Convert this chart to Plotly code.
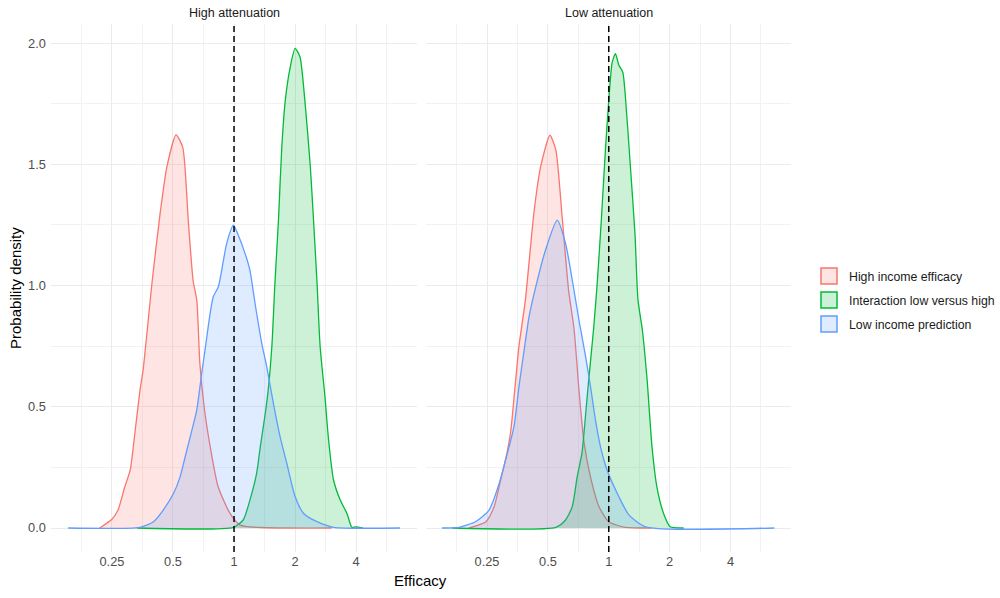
import plotly.graph_objects as go

# ---------------- data ----------------
series_names = ["High income efficacy", "Interaction low versus high", "Low income prediction"]
line_colors = ["#F8766D", "#00BA38", "#619CFF"]
fill_colors = ["rgba(248,118,109,0.2)", "rgba(0,186,56,0.2)", "rgba(97,156,255,0.2)"]
panels = ["High attenuation", "Low attenuation"]

# High attenuation panel
high_red_x = [0.2176, 0.25, 0.2679, 0.2892, 0.3078, 0.3253, 0.3439, 0.3560, 0.3950, 0.4323, 0.4665,
              0.5176, 0.5586, 0.5946, 0.6285, 0.6552, 0.6783, 0.7120, 0.7631, 0.8351, 0.9553, 1.0718,
              1.3472, 3.031]
high_red_y = [0.0, 0.036, 0.074, 0.17, 0.24, 0.40, 0.57, 0.65, 1.02, 1.30, 1.49,
              1.622, 1.57, 1.27, 1.02, 0.94, 0.68, 0.50, 0.335, 0.17, 0.06, 0.012,
              0.002, 0.0]

high_green_x = [0.3322, 0.9931, 1.1096, 1.1975, 1.2924, 1.3472, 1.4241, 1.4743, 1.5369, 1.5911,
                1.6586, 1.7171, 1.7901, 1.8921, 2.0, 2.1140, 2.2346, 2.3784, 2.4623, 2.5669,
                2.6574, 2.8089, 2.9282, 3.0950, 3.3404, 3.6050, 3.8106, 4.0, 4.3169]
high_green_y = [0.0, 0.003, 0.033, 0.115, 0.225, 0.335, 0.47, 0.57, 0.75, 1.01,
                1.28, 1.56, 1.765, 1.90, 1.978, 1.944, 1.765, 1.49, 1.28, 1.01,
                0.75, 0.54, 0.36, 0.198, 0.115, 0.06, 0.003, 0.005, 0.0]

high_blue_x = [0.152, 0.3439, 0.4005, 0.4475, 0.5035, 0.5414, 0.5743, 0.6198, 0.6552, 0.6926,
               0.7194, 0.7579, 0.7900, 0.8368, 0.9202, 0.9931, 1.0497, 1.1329, 1.1975, 1.2693,
               1.3697, 1.4500, 1.5636, 1.6864, 1.8201, 2.0, 2.2038, 2.5669, 3.0950, 6.589]
high_blue_y = [0.0, 0.003, 0.026, 0.074, 0.143, 0.21, 0.294, 0.404, 0.487, 0.638,
               0.734, 0.871, 0.954, 0.995, 1.174, 1.249, 1.208, 1.133, 1.064, 0.927,
               0.762, 0.665, 0.514, 0.377, 0.267, 0.13, 0.06, 0.026, 0.003, 0.0]

# Low attenuation panel
low_red_x = [0.2031, 0.2466, 0.2710, 0.2918, 0.3139, 0.3276, 0.3464, 0.3596, 0.3868, 0.4263,
             0.4601, 0.5115, 0.5471, 0.5885, 0.6329, 0.6736, 0.7120, 0.7526, 0.8123, 0.8950,
             1.0, 1.2058, 1.6245]
low_red_y = [0.0, 0.026, 0.088, 0.198, 0.31, 0.40, 0.61, 0.75, 0.94, 1.30,
             1.49, 1.62, 1.56, 1.28, 0.98, 0.82, 0.57, 0.36, 0.21, 0.088,
             0.026, 0.003, 0.0]

low_green_x = [0.1684, 0.5471, 0.6113, 0.6598, 0.6974, 0.7371, 0.7684, 0.7955, 0.8409, 0.8766,
               0.9202, 0.9626, 1.0, 1.0389, 1.0792, 1.1204, 1.1728, 1.2058, 1.2791, 1.3472,
               1.3947, 1.4641, 1.5476, 1.6358, 1.7291, 1.8661, 2.0139, 2.3457]
low_green_y = [0.0, 0.003, 0.033, 0.088, 0.21, 0.31, 0.47, 0.61, 0.82, 1.01,
               1.28, 1.56, 1.765, 1.92, 1.957, 1.91, 1.88, 1.79, 1.49, 1.215,
               0.94, 0.82, 0.61, 0.335, 0.17, 0.06, 0.005, 0.0]

low_blue_x = [0.1497, 0.1817, 0.2192, 0.2558, 0.2872, 0.3151, 0.3398, 0.3596, 0.3815, 0.4033,
              0.4353, 0.4863, 0.5557, 0.6113, 0.6598, 0.7120, 0.7684, 0.8123, 0.8596, 0.9101,
              0.9808, 1.1204, 1.2570, 1.5157, 6.589]
low_blue_y = [0.0, 0.003, 0.026, 0.074, 0.184, 0.308, 0.418, 0.583, 0.734, 0.871,
              0.995, 1.146, 1.27, 1.174, 1.023, 0.858, 0.706, 0.583, 0.445, 0.335,
              0.239, 0.13, 0.054, 0.005, 0.0]

reference_efficacy = 1.0
x_tick_vals = [0.25, 0.5, 1, 2, 4]
x_tick_text = ["0.25", "0.5", "1", "2", "4"]
x_minor_vals = [0.125, 0.1768, 0.3536, 0.7071, 1.4142, 2.8284, 5.6569, 8]
y_tick_vals = [0, 0.5, 1, 1.5, 2]
y_tick_text = ["0.0", "0.5", "1.0", "1.5", "2.0"]
y_minor_vals = [0.25, 0.75, 1.25, 1.75]

# ---------------- figure ----------------
W, H = 1000, 598
FONT = "Liberation Sans, Arial, sans-serif"

panel_data = [
    [(high_red_x, high_red_y), (high_green_x, high_green_y), (high_blue_x, high_blue_y)],
    [(low_red_x, low_red_y), (low_green_x, low_green_y), (low_blue_x, low_blue_y)],
]

fig = go.Figure()
y_range = [-0.099, 2.079]

for p, series in enumerate(panel_data):
    xa = "x" if p == 0 else "x2"
    ya = "y" if p == 0 else "y2"
    for i, (xs, ys) in enumerate(series):
        fig.add_trace(go.Scatter(
            x=xs, y=ys, mode="lines", fill="tozeroy",
            line=dict(color=line_colors[i], width=1.3, shape="spline", smoothing=0.6),
            fillcolor=fill_colors[i], name=series_names[i],
            legendgroup=series_names[i], showlegend=False,
            xaxis=xa, yaxis=ya, hoverinfo="skip",
        ))
    fig.add_trace(go.Scatter(
        x=[reference_efficacy, reference_efficacy], y=y_range, mode="lines",
        line=dict(color="black", width=1.5, dash="6px,4px"),
        showlegend=False, xaxis=xa, yaxis=ya, hoverinfo="skip",
    ))

# legend keys (square boxes like ggplot's fill keys)
for i, name in enumerate(series_names):
    fig.add_trace(go.Scatter(
        x=[None], y=[None], mode="markers", name=name, legendgroup=name,
        marker=dict(symbol="square", size=20, color=fill_colors[i],
                    line=dict(color=line_colors[i], width=1.5)),
        showlegend=True, xaxis="x", yaxis="y", hoverinfo="skip",
    ))

ydom = [1 - 552 / H, 1 - 24 / H]
common_x = dict(
    type="log", range=[-0.9031, 0.9031], tickvals=x_tick_vals, ticktext=x_tick_text,
    showgrid=True, gridcolor="#EBEBEB", gridwidth=1, zeroline=False, showline=False,
    ticks="", tickfont=dict(size=12.8, color="#4D4D4D", family=FONT),
    minor=dict(tickvals=x_minor_vals, showgrid=True, gridcolor="#F2F2F2", gridwidth=1, ticks=""),
)
common_y = dict(
    range=y_range, tickvals=y_tick_vals, ticktext=y_tick_text,
    showgrid=True, gridcolor="#EBEBEB", gridwidth=1, zeroline=False, showline=False,
    ticks="", tickfont=dict(size=12.8, color="#4D4D4D", family=FONT),
    minor=dict(tickvals=y_minor_vals, showgrid=True, gridcolor="#F2F2F2", gridwidth=1, ticks=""),
    domain=ydom,
)

fig.update_layout(
    width=W, height=H,
    margin=dict(l=0, r=0, t=0, b=0),
    paper_bgcolor="white", plot_bgcolor="white",
    font=dict(family=FONT, size=12, color="#1A1A1A"),
    xaxis=dict(common_x, domain=[51 / W, 418 / W], anchor="y"),
    xaxis2=dict(common_x, domain=[427 / W, 793 / W], anchor="y2"),
    yaxis=dict(common_y, anchor="x", ticklabelstandoff=4),
    yaxis2=dict(common_y, anchor="x2", showticklabels=False, matches="y"),
    legend=dict(
        x=811 / W, y=1 - 300 / H, xanchor="left", yanchor="middle",
        font=dict(size=12.3, color="#1A1A1A", family=FONT),
        bgcolor="rgba(0,0,0,0)", tracegroupgap=5, itemwidth=30, itemsizing="trace",
    ),
    showlegend=True,
)

annotations = [
    dict(text=panels[0], x=234.5 / W, y=1 - 13 / H, xref="paper", yref="paper",
         xanchor="center", yanchor="middle",
         showarrow=False, font=dict(size=12.5, color="#1A1A1A", family=FONT)),
    dict(text=panels[1], x=610 / W, y=1 - 13 / H, xref="paper", yref="paper",
         xanchor="center", yanchor="middle",
         showarrow=False, font=dict(size=12.5, color="#1A1A1A", family=FONT)),
    dict(text="Efficacy", x=421 / W, y=1 - 580 / H, xref="paper", yref="paper",
         xanchor="center", yanchor="middle",
         showarrow=False, font=dict(size=15, color="black", family=FONT)),
    dict(text="Probability density", x=15 / W, y=1 - 288 / H, xref="paper", yref="paper",
         xanchor="center", yanchor="middle",
         showarrow=False, textangle=-90, font=dict(size=15, color="black", family=FONT)),
]
fig.update_layout(annotations=annotations)

fig.write_html("out.html")
